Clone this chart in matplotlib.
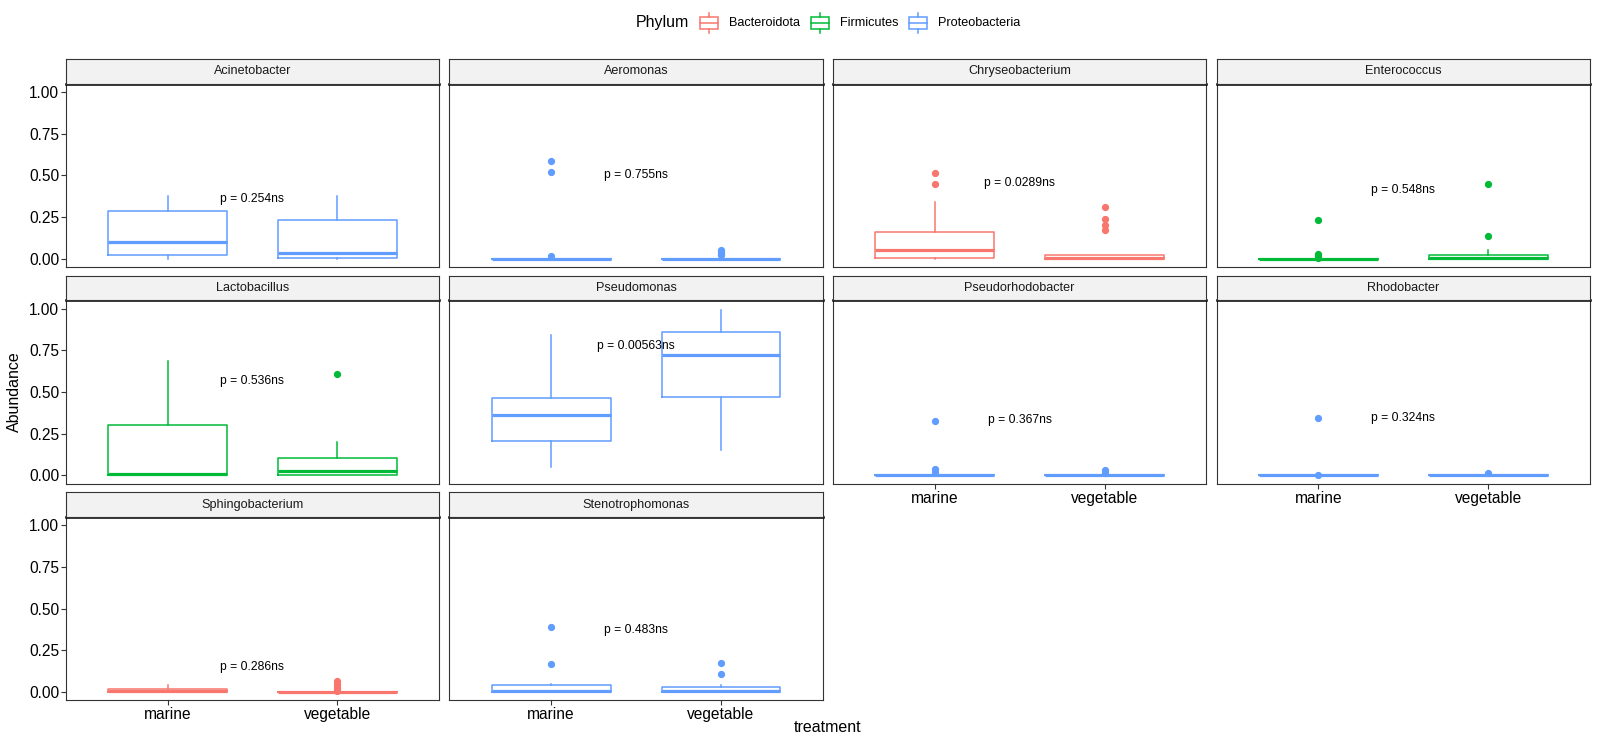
import matplotlib.pyplot as plt
from matplotlib.patches import Rectangle
from matplotlib.lines import Line2D

plt.rcParams['font.family'] = ['Liberation Sans', 'DejaVu Sans']

# 資料（從圖上讀取的箱形圖統計量）
genera = ["Acinetobacter", "Aeromonas", "Chryseobacterium", "Enterococcus",
          "Lactobacillus", "Pseudomonas", "Pseudorhodobacter", "Rhodobacter",
          "Sphingobacterium", "Stenotrophomonas"]
phylum = ["Proteobacteria", "Proteobacteria", "Bacteroidota", "Firmicutes",
          "Firmicutes", "Proteobacteria", "Proteobacteria", "Proteobacteria",
          "Bacteroidota", "Proteobacteria"]
treatments = ["marine", "vegetable"]

# marine 組
marine_whislo = [0.0, 0.0, 0.0, 0.0, 0.0, 0.05, 0.0, 0.0, 0.0, 0.0]
marine_q1 = [0.02, 0.0, 0.004, 0.0, 0.0, 0.204, 0.0, 0.0, 0.0, 0.0]
marine_med = [0.098, 0.0, 0.05, 0.0, 0.006, 0.364, 0.0, 0.0, 0.004, 0.004]
marine_q3 = [0.287, 0.0, 0.161, 0.0, 0.302, 0.462, 0.0, 0.0, 0.02, 0.04]
marine_whishi = [0.378, 0.0, 0.341, 0.0, 0.688, 0.84, 0.0, 0.0, 0.044, 0.048]
marine_fliers = [[], [0.584, 0.518, 0.016], [0.514, 0.448],
                 [0.235, 0.026, 0.014, 0.006], [], [],
                 [0.326, 0.038, 0.02], [0.346, 0.004], [], [0.389, 0.166]]

# vegetable 組
veg_whislo = [0.0, 0.0, 0.0, 0.0, 0.0, 0.152, 0.0, 0.0, 0.0, 0.0]
veg_q1 = [0.003, 0.0, 0.0, 0.0, 0.0, 0.468, 0.0, 0.0, 0.0, 0.0]
veg_med = [0.036, 0.0, 0.002, 0.004, 0.028, 0.724, 0.0, 0.0, 0.0, 0.004]
veg_q3 = [0.233, 0.0, 0.02, 0.02, 0.104, 0.858, 0.0, 0.0, 0.0, 0.028]
veg_whishi = [0.378, 0.0, 0.02, 0.05, 0.202, 0.994, 0.0, 0.0, 0.0, 0.044]
veg_fliers = [[], [0.05, 0.04, 0.03, 0.02], [0.309, 0.237, 0.205, 0.171],
              [0.45, 0.135], [0.606], [], [0.032, 0.016], [0.016],
              [0.066, 0.048, 0.032, 0.016, 0.008], [0.176, 0.106]]

p_labels = ["p = 0.254ns", "p = 0.755ns", "p = 0.0289ns", "p = 0.548ns",
            "p = 0.536ns", "p = 0.00563ns", "p = 0.367ns", "p = 0.324ns",
            "p = 0.286ns", "p = 0.483ns"]
p_label_y = [0.361, 0.502, 0.456, 0.41, 0.568, 0.778, 0.332, 0.346, 0.152, 0.371]

phyla = ["Bacteroidota", "Firmicutes", "Proteobacteria"]
phylum_colors = {"Bacteroidota": "#F8766D", "Firmicutes": "#00BA38",
                 "Proteobacteria": "#619CFF"}

W, H = 1600, 736
fig = plt.figure(figsize=(16, 7.36), dpi=100)


def px_axes(x, y, w, h):
    return fig.add_axes([x / W, 1 - (y + h) / H, w / W, h / H])


pw, ph, sh = 373.5, 183.3, 24.7
ncol = 4
n = len(genera)
for i, g in enumerate(genera):
    r, c = divmod(i, ncol)
    left = 65.7 + c * 383.6
    top = 83.7 + r * 216.6
    col = phylum_colors[phylum[i]]

    ax = px_axes(left, top, pw, ph)
    stats = [
        dict(whislo=marine_whislo[i], q1=marine_q1[i], med=marine_med[i],
             q3=marine_q3[i], whishi=marine_whishi[i], fliers=marine_fliers[i]),
        dict(whislo=veg_whislo[i], q1=veg_q1[i], med=veg_med[i],
             q3=veg_q3[i], whishi=veg_whishi[i], fliers=veg_fliers[i]),
    ]
    ax.bxp(stats, positions=[1, 2], widths=0.7, showcaps=False,
           boxprops=dict(color=col, lw=1.1),
           whiskerprops=dict(color=col, lw=1.1),
           medianprops=dict(color=col, lw=2.3, solid_capstyle='butt'),
           flierprops=dict(marker='o', markerfacecolor=col, markeredgecolor=col,
                           markersize=4.2, linestyle='none'))
    ax.text(1.5, p_label_y[i], p_labels[i], ha='center', va='center', fontsize=8.7)
    ax.set_xlim(0.4, 2.6)
    ax.set_ylim(-0.05, 1.05)
    for s in ax.spines.values():
        s.set_color('#333333')
        s.set_linewidth(0.8)
    ax.spines['top'].set_color('black')
    ax.spines['top'].set_linewidth(1.8)

    ax.set_yticks([0, 0.25, 0.5, 0.75, 1.0])
    ax.set_xticks([1, 2])
    ax.tick_params(length=3.6, width=0.8, color='#333333', labelsize=11.2,
                   labelcolor='black')
    ax.tick_params(axis='y', pad=1)
    ax.tick_params(axis='x', pad=1.5)
    if c == 0:
        ax.set_yticklabels(["0.00", "0.25", "0.50", "0.75", "1.00"])
    else:
        ax.tick_params(axis='y', left=False, labelleft=False)
    if i + ncol >= n:
        ax.set_xticklabels(treatments)
    else:
        ax.tick_params(axis='x', bottom=False, labelbottom=False)

    # 分面標題
    sax = px_axes(left, top - sh, pw, sh)
    sax.set_facecolor('#F2F2F2')
    sax.set_xticks([])
    sax.set_yticks([])
    for s in sax.spines.values():
        s.set_color('#333333')
        s.set_linewidth(0.8)
    sax.text(0.5, 0.5, g, ha='center', va='center', fontsize=9.1,
             color='#1A1A1A', transform=sax.transAxes)

fig.text(14 / W, 1 - 392 / H, "Abundance", rotation=90, ha='center',
         va='center', fontsize=11.5)
fig.text(828 / W, 1 - 735 / H, "treatment", ha='center', va='bottom', fontsize=11.5)

# 圖例
ov = fig.add_axes([0, 0, 1, 1])
ov.set_xlim(0, W)
ov.set_ylim(H, 0)
ov.axis('off')
ov.text(636, 22.5, "Phylum", ha='left', va='center', fontsize=11.5)
key_x = [700, 811, 909]
for kx, ph_name in zip(key_x, phyla):
    col = phylum_colors[ph_name]
    ov.add_line(Line2D([kx + 9, kx + 9], [13, 17], color=col, lw=1.1))
    ov.add_line(Line2D([kx + 9, kx + 9], [29, 33], color=col, lw=1.1))
    ov.add_patch(Rectangle((kx, 17), 18, 12, facecolor='white', edgecolor=col, lw=1.1))
    ov.add_line(Line2D([kx, kx + 18], [23, 23], color=col, lw=1.1))
    ov.text(kx + 29, 22.5, ph_name, ha='left', va='center', fontsize=9.1)

fig.savefig("out.png", dpi=100)
